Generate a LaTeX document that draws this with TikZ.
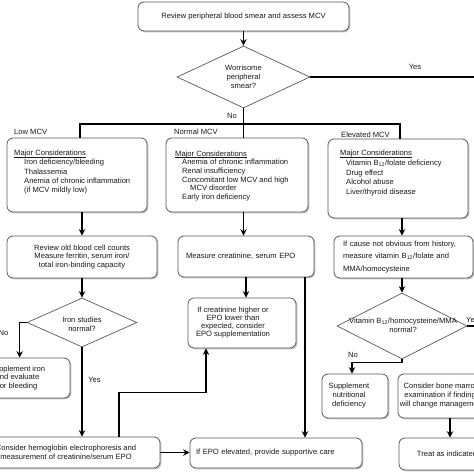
\documentclass[tikz,border=0pt]{standalone}
\usepackage{fontspec}
\setmainfont{Liberation Sans}
\usetikzlibrary{arrows.meta,shadows,shapes.geometric,calc}
\newcommand\myul[1]{\sbox0{#1}\rlap{\rule[-1.3pt]{\wd0}{0.45pt}}#1}
\tikzset{
  fs/.style={font=\fontsize{7.6}{#1}\selectfont},
  box/.style={draw=black!65, line width=0.8pt, rounded corners=6pt, fill=white,
    drop shadow={shadow xshift=1.3pt, shadow yshift=-1.3pt, fill=black!40, opacity=0.6},
    inner sep=0pt, fs=9, text=black!90},
  txt/.style={inner sep=0pt, fs=9, text=black!90},
  ctxt/.style={txt, align=left, anchor=north west},
  dia/.style={draw=black!65, line width=0.7pt, diamond, fill=white, inner sep=0pt},
  conn/.style={line width=1.4pt, black},
  arr/.style={conn, -{Stealth[length=6.5pt,width=6.5pt,inset=2.2pt]}},
  lbl/.style={inner sep=0pt, fs=9, text=black!90},
}
\begin{document}
\begin{tikzpicture}[x=1pt,y=-1pt]
\useasboundingbox (0,0) rectangle (474,474);
% top
\node[box, minimum width=211pt, minimum height=29pt] (T) at (243.5,16.5) {Review peripheral blood smear and assess MCV};
\node[dia, minimum width=133pt, minimum height=62pt] (D1) at (243.5,77) {};
\node[txt, align=center, fs=8.8] (D1t) at (243.5,77) {Worrisome\\peripheral\\smear?};
\node[lbl] (yes1l) at (415,67) {Yes};
\node[lbl] (no1l) at (232,116) {No};
% row 1
\node[lbl, anchor=west] (lowl) at (14,131.5) {Low MCV};
\node[lbl, anchor=west] (norml) at (174,131.5) {Normal MCV};
\node[lbl, anchor=west] (elevl) at (341,134.5) {Elevated MCV};
\node[box, minimum width=140pt, minimum height=74pt] (L1) at (77,175) {};
\node[ctxt, fs=9.1] (L1t) at (14,150.1) {\myul{Major Considerations}\\\hspace*{10pt}Iron deficiency/bleeding\\\hspace*{10pt}Thalassemia\\\hspace*{10pt}Anemia of chronic inflammation\\\hspace*{10pt}(if MCV mildly low)};
\node[box, minimum width=142pt, minimum height=74pt] (M1) at (237,175) {};
\node[ctxt, fs=8.7] (M1t) at (175,150.4) {\myul{Major Considerations}\\\hspace*{7pt}Anemia of chronic inflammation\\\hspace*{7pt}Renal insufficiency\\\hspace*{7pt}Concomitant low MCV and high\\\hspace*{15pt}MCV disorder\\\hspace*{7pt}Early iron deficiency};
\node[box, minimum width=140pt, minimum height=79pt] (R1) at (398,178.5) {};
\node[ctxt, fs=9.7] (R1t) at (340,150.1) {\myul{Major Considerations}\\\hspace*{6pt}Vitamin B\textsubscript{12}/folate deficiency\\\hspace*{6pt}Drug effect\\\hspace*{6pt}Alcohol abuse\\\hspace*{6pt}Liver/thyroid disease};
% row 2
\node[box, minimum width=150pt, minimum height=42pt, align=center, fs=8.6] (L2) at (82,257) {Review old blood cell counts\\Measure ferritin, serum iron/\\total iron-binding capacity};
\node[box, minimum width=136pt, minimum height=41pt, align=left, text width=120pt] (M2) at (246,256.5) {Measure creatinine, serum EPO};
\node[box, minimum width=139pt, minimum height=42pt, align=left, text width=121pt] (R2) at (403.5,257) {If cause not obvious from history,\\[3.5pt]measure vitamin B\textsubscript{12}/folate and\\[3.5pt]MMA/homocysteine};
% row 3
\node[dia, minimum width=110pt, minimum height=49pt] (D2) at (82,322.5) {};
\node[txt, align=center, fs=9] (D2t) at (82,324.5) {Iron studies\\normal?};
\node[lbl, anchor=east] (no2l) at (8.5,333) {No};
\node[box, minimum width=108pt, minimum height=50pt] (C1) at (242,323) {};
\node[txt, align=center, fs=8] (C1t) at (233,322.5) {If creatinine higher or\\EPO lower than\\expected, consider\\EPO supplementation};
\node[dia, minimum width=130pt, minimum height=66pt] (D3) at (402,326) {};
\node[txt, align=center, fs=8.5] (D3t) at (403,325.5) {Vitamin B\textsubscript{12}/homocysteine/MMA\\normal?};
\node[lbl, anchor=west] (yes3l) at (466,320) {Yes};
\node[lbl] (no3l) at (353,355) {No};
% row 4
\node[box, minimum width=105pt, minimum height=40pt, align=center, fs=8.5] (S1) at (17.5,378) {Supplement iron\\and evaluate\\for bleeding};
\node[lbl] (yes2l) at (94.5,380) {Yes};
\node[box, minimum width=66pt, minimum height=44pt] (N1) at (355,396) {};
\node[txt, align=center, fs=9] (N1t) at (349,396) {Supplement\\nutritional\\deficiency};
\node[box, minimum width=88pt, minimum height=44pt, align=center, fs=9] (BM) at (442,396) {Consider bone marrow\\examination if findings\\will change management};
% row 5
\node[box, minimum width=188pt, minimum height=31pt, align=center, fs=9] (B1) at (66,452.5) {Consider hemoglobin electrophoresis and\\measurement of creatinine/serum EPO};
\node[box, minimum width=172pt, minimum height=30pt, align=left, text width=160pt] (E1) at (276,453) {If EPO elevated, provide supportive care};
\node[box, minimum width=96pt, minimum height=32pt] (TR) at (447,454) {Treat as indicated};
% connectors
\coordinate (yes1) at (480,77);
\coordinate (yes3) at (480,326);
\coordinate (jl) at (80,124);
\coordinate (jr) at (400,124);
\draw[arr] (T.south) -- (D1.north);
\draw[conn] (D1.east) -- (yes1);
\draw[conn] (jl |- L1.north) -- (jl) -- (jr) -- (jr |- R1.north);
\draw[conn] (D1.south) -- (D1.south |- M1.north);
\draw[arr] (L2.north |- L1.south) -- (L2.north);
\draw[arr] (D1.south |- M1.south) -- (D1.south |- M2.north);
\draw[arr] (D3.north |- R1.south) -- (D3.north |- R2.north);
\draw[arr] (L2.south) -- (D2.north);
\draw[arr] (D2.west) -- ++(-7,0) coordinate (d2w) -- (d2w |- S1.north);
\draw[arr] (D2.south) -- (D2.south |- B1.north);
\draw[arr] (M2.south) -- (M2.south |- C1.north);
\draw[arr] ($(M2.south)+(59,0)$) -- ($(E1.north)+(29,0)$);
\draw[arr] (B1.east) -- (B1.east -| E1.west);
\draw[arr] ($(B1.north)+(53,0)$) -- ++(0,-44) -| ($(C1.south)+(-36,0)$);
\draw[arr] (D3.north |- R2.south) -- (D3.north);
\draw[conn] (D3.east) -- (yes3);
\draw[arr] (D3.south) -- ++(0,3) -| ($(N1.north)+(-3,0)$);
\draw[arr] ($(BM.south)+(8,0)$) -- ($(TR.north)+(3,0)$);
\end{tikzpicture}
\end{document}
